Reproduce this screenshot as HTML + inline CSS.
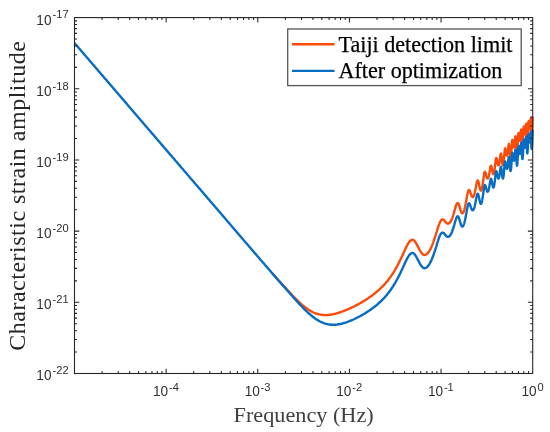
<!DOCTYPE html>
<html><head><meta charset="utf-8"><title>Characteristic strain amplitude vs frequency</title>
<style>
html,body{margin:0;padding:0;background:#fff;}
svg{display:block}
.t{font-family:"Liberation Sans",sans-serif;font-size:14.5px;fill:#303030}
.s{font-family:"Liberation Sans",sans-serif;font-size:11.6px;fill:#303030}
.lg{font-family:"Liberation Serif",serif;font-size:22.1px;fill:#000;stroke:#000;stroke-width:0.25px}
.xl{font-family:"Liberation Serif",serif;font-size:21.2px;fill:#404040}
.yl{font-family:"Liberation Serif",serif;font-size:24px;letter-spacing:0.5px;fill:#262626}
</style></head><body>
<svg width="550" height="432" viewBox="0 0 550 432">
<rect width="550" height="432" fill="#fff"/>
<defs><clipPath id="c"><rect x="74.5" y="17.6" width="459.5" height="355.9"/></clipPath></defs>
<g clip-path="url(#c)" fill="none" stroke-width="2.4" stroke-linejoin="round" stroke-linecap="butt">
<path stroke="#FC4A08" d="M272.5,273.4 L273.5,274.6 L274.5,275.7 L275.5,276.8 L276.5,278.0 L277.5,279.1 L278.5,280.2 L279.5,281.4 L280.5,282.5 L281.5,283.6 L282.5,284.7 L283.5,285.8 L284.5,286.9 L285.5,288.0 L286.5,289.1 L287.5,290.1 L288.5,291.2 L289.5,292.2 L290.5,293.3 L291.5,294.4 L292.5,295.5 L293.5,296.5 L294.5,297.6 L295.5,298.6 L296.5,299.6 L297.5,300.6 L298.5,301.5 L299.5,302.5 L300.5,303.4 L301.5,304.3 L302.5,305.2 L303.5,306.0 L304.5,306.8 L305.5,307.6 L306.5,308.3 L307.5,309.0 L308.5,309.7 L309.5,310.3 L310.5,310.9 L311.5,311.5 L312.5,312.0 L313.5,312.5 L314.5,312.9 L315.5,313.3 L316.5,313.6 L317.5,313.9 L318.5,314.2 L319.5,314.4 L320.5,314.6 L321.5,314.8 L322.5,314.9 L323.5,315.0 L324.5,315.1 L325.5,315.1 L326.5,315.1 L327.5,315.0 L328.5,314.9 L329.5,314.8 L330.5,314.7 L331.5,314.5 L332.5,314.4 L333.5,314.2 L334.5,313.9 L335.5,313.7 L336.5,313.4 L337.5,313.1 L338.5,312.8 L339.5,312.5 L340.5,312.2 L341.5,311.8 L342.5,311.4 L343.5,311.1 L344.5,310.7 L345.5,310.3 L346.5,309.9 L347.5,309.4 L348.5,309.0 L349.5,308.6 L350.5,308.1 L351.5,307.6 L352.5,307.2 L353.5,306.7 L354.5,306.2 L355.5,305.7 L356.5,305.1 L357.5,304.6 L358.5,304.1 L359.5,303.5 L360.5,303.0 L361.5,302.4 L362.5,301.8 L363.5,301.2 L364.5,300.6 L365.5,300.0 L366.5,299.3 L367.5,298.7 L368.5,298.0 L369.5,297.3 L370.5,296.6 L371.5,295.9 L372.5,295.2 L373.5,294.4 L374.5,293.6 L375.5,292.8 L376.5,292.0 L377.5,291.1 L378.5,290.3 L379.5,289.4 L380.5,288.4 L381.5,287.5 L382.5,286.5 L383.5,285.4 L384.5,284.4 L385.5,283.3 L386.5,282.1 L387.5,280.9 L388.5,279.6 L389.5,278.3 L390.0,277.6 L390.2,277.3 L390.4,277.1 L390.6,276.8 L390.8,276.5 L391.0,276.2 L391.2,275.9 L391.4,275.6 L391.6,275.3 L391.8,275.0 L392.0,274.7 L392.2,274.4 L392.4,274.1 L392.6,273.8 L392.8,273.5 L393.0,273.2 L393.2,272.9 L393.4,272.6 L393.6,272.3 L393.8,271.9 L394.0,271.6 L394.2,271.3 L394.4,270.9 L394.6,270.6 L394.8,270.3 L395.0,269.9 L395.2,269.6 L395.4,269.2 L395.6,268.9 L395.8,268.5 L396.0,268.2 L396.2,267.8 L396.4,267.5 L396.6,267.1 L396.8,266.7 L397.0,266.4 L397.2,266.0 L397.4,265.6 L397.6,265.3 L397.8,264.9 L398.0,264.5 L398.2,264.1 L398.4,263.7 L398.6,263.3 L398.8,262.9 L399.0,262.5 L399.2,262.1 L399.4,261.7 L399.6,261.3 L399.8,260.9 L400.0,260.5 L400.2,260.1 L400.4,259.7 L400.6,259.3 L400.8,258.8 L401.0,258.4 L401.2,258.0 L401.4,257.6 L401.6,257.1 L401.8,256.7 L402.0,256.3 L402.2,255.8 L402.4,255.4 L402.6,255.0 L402.8,254.5 L403.0,254.1 L403.2,253.6 L403.4,253.2 L403.6,252.8 L403.8,252.3 L404.0,251.9 L404.2,251.5 L404.4,251.0 L404.6,250.6 L404.8,250.2 L405.0,249.7 L405.2,249.3 L405.4,248.9 L405.6,248.4 L405.8,248.0 L406.0,247.6 L406.2,247.2 L406.4,246.8 L406.6,246.4 L406.8,246.0 L407.0,245.6 L407.2,245.3 L407.4,244.9 L407.6,244.5 L407.8,244.2 L408.0,243.8 L408.2,243.5 L408.4,243.2 L408.6,242.9 L408.8,242.6 L409.0,242.3 L409.2,242.0 L409.4,241.8 L409.6,241.5 L409.8,241.3 L410.0,241.1 L410.2,240.9 L410.4,240.7 L410.6,240.6 L410.8,240.4 L411.0,240.3 L411.2,240.2 L411.4,240.1 L411.6,240.0 L411.8,239.9 L412.0,239.9 L412.2,239.8 L412.4,239.8 L412.6,239.8 L412.8,239.8 L413.0,239.9 L413.2,239.9 L413.4,240.0 L413.6,240.1 L413.8,240.3 L414.0,240.5 L414.2,240.6 L414.4,240.9 L414.6,241.1 L414.8,241.3 L415.0,241.6 L415.2,241.9 L415.4,242.2 L415.6,242.5 L415.8,242.8 L416.0,243.1 L416.2,243.5 L416.4,243.8 L416.6,244.2 L416.8,244.5 L417.0,244.9 L417.2,245.3 L417.4,245.7 L417.6,246.1 L417.8,246.5 L418.0,246.8 L418.2,247.2 L418.4,247.6 L418.6,248.0 L418.8,248.4 L419.0,248.8 L419.2,249.1 L419.4,249.5 L419.6,249.9 L419.8,250.2 L420.0,250.6 L420.2,250.9 L420.4,251.3 L420.6,251.6 L420.8,251.9 L421.0,252.2 L421.2,252.5 L421.4,252.8 L421.6,253.0 L421.8,253.3 L422.0,253.5 L422.2,253.7 L422.4,253.9 L422.6,254.1 L422.8,254.3 L423.0,254.5 L423.2,254.6 L423.4,254.7 L423.6,254.8 L423.8,254.9 L424.0,255.0 L424.2,255.0 L424.4,255.0 L424.6,255.0 L424.8,255.0 L425.0,254.9 L425.2,254.9 L425.4,254.8 L425.6,254.8 L425.8,254.7 L426.0,254.6 L426.2,254.5 L426.4,254.3 L426.6,254.2 L426.8,254.0 L427.0,253.9 L427.2,253.7 L427.4,253.5 L427.6,253.3 L427.8,253.1 L428.0,252.8 L428.2,252.6 L428.4,252.3 L428.6,252.1 L428.8,251.8 L429.0,251.5 L429.2,251.2 L429.4,250.9 L429.6,250.5 L429.8,250.2 L430.0,249.8 L430.2,249.5 L430.4,249.1 L430.6,248.7 L430.8,248.3 L431.0,247.9 L431.2,247.4 L431.4,247.0 L431.6,246.5 L431.8,246.1 L432.0,245.6 L432.2,245.1 L432.4,244.6 L432.6,244.1 L432.8,243.6 L433.0,243.1 L433.2,242.5 L433.4,242.0 L433.6,241.4 L433.8,240.8 L434.0,240.3 L434.2,239.7 L434.4,239.1 L434.6,238.5 L434.8,237.8 L435.0,237.2 L435.2,236.6 L435.4,236.0 L435.6,235.3 L435.8,234.7 L436.0,234.0 L436.2,233.4 L436.4,232.7 L436.6,232.1 L436.8,231.4 L437.0,230.8 L437.2,230.1 L437.4,229.5 L437.6,228.8 L437.8,228.2 L438.0,227.5 L438.2,226.9 L438.4,226.3 L438.6,225.7 L438.8,225.2 L439.0,224.6 L439.2,224.1 L439.4,223.5 L439.6,223.0 L439.8,222.6 L440.0,222.1 L440.2,221.7 L440.4,221.3 L440.6,221.0 L440.8,220.7 L441.0,220.4 L441.2,220.2 L441.4,219.9 L441.6,219.8 L441.8,219.6 L442.0,219.5 L442.2,219.5 L442.4,219.4 L442.6,219.4 L442.8,219.4 L443.0,219.5 L443.2,219.6 L443.4,219.7 L443.6,219.9 L443.8,220.0 L444.0,220.2 L444.2,220.4 L444.4,220.7 L444.6,220.9 L444.8,221.1 L445.0,221.4 L445.2,221.6 L445.4,221.9 L445.6,222.1 L445.8,222.3 L446.0,222.5 L446.2,222.8 L446.4,222.9 L446.6,223.1 L446.8,223.3 L447.0,223.4 L447.2,223.5 L447.4,223.6 L447.6,223.6 L447.8,223.6 L448.0,223.6 L448.2,223.6 L448.4,223.5 L448.6,223.5 L448.8,223.4 L449.0,223.3 L449.2,223.1 L449.4,223.0 L449.6,222.8 L449.8,222.6 L450.0,222.4 L450.2,222.1 L450.4,221.8 L450.6,221.5 L450.8,221.2 L451.0,220.8 L451.2,220.5 L451.4,220.1 L451.6,219.6 L451.8,219.2 L452.0,218.7 L452.2,218.2 L452.4,217.6 L452.6,217.1 L452.8,216.5 L453.0,215.9 L453.2,215.2 L453.4,214.6 L453.6,213.9 L453.8,213.3 L454.0,212.6 L454.2,211.9 L454.4,211.1 L454.6,210.4 L454.8,209.7 L455.0,209.0 L455.2,208.3 L455.4,207.6 L455.6,207.0 L455.8,206.3 L456.0,205.8 L456.2,205.2 L456.4,204.7 L456.6,204.3 L456.8,203.9 L457.0,203.6 L457.2,203.4 L457.4,203.2 L457.6,203.1 L457.8,203.1 L458.0,203.1 L458.2,203.3 L458.4,203.6 L458.6,204.0 L458.8,204.4 L459.0,205.0 L459.2,205.6 L459.4,206.2 L459.6,206.9 L459.8,207.6 L460.0,208.3 L460.2,209.0 L460.4,209.6 L460.6,210.3 L460.8,210.9 L461.0,211.5 L461.2,212.0 L461.4,212.4 L461.6,212.8 L461.8,213.1 L462.0,213.3 L462.2,213.4 L462.4,213.4 L462.6,213.3 L462.8,213.2 L463.0,212.9 L463.2,212.6 L463.4,212.3 L463.6,211.8 L463.8,211.3 L464.0,210.7 L464.2,210.1 L464.4,209.4 L464.6,208.6 L464.8,207.8 L465.0,206.9 L465.2,206.0 L465.4,205.0 L465.6,204.0 L465.8,202.9 L466.0,201.9 L466.2,200.8 L466.4,199.6 L466.6,198.5 L466.8,197.4 L467.0,196.3 L467.2,195.3 L467.4,194.3 L467.6,193.3 L467.8,192.5 L468.0,191.8 L468.2,191.1 L468.4,190.6 L468.6,190.3 L468.8,190.1 L469.0,190.0 L469.2,190.1 L469.4,190.3 L469.6,190.6 L469.8,191.0 L470.0,191.5 L470.2,192.0 L470.4,192.6 L470.6,193.2 L470.8,193.8 L471.0,194.4 L471.2,194.9 L471.4,195.4 L471.6,195.9 L471.8,196.3 L472.0,196.6 L472.2,196.9 L472.4,197.0 L472.6,197.1 L472.8,197.1 L473.0,197.0 L473.2,196.8 L473.4,196.5 L473.6,196.2 L473.8,195.8 L474.0,195.3 L474.2,194.7 L474.4,194.0 L474.6,193.3 L474.8,192.5 L475.0,191.6 L475.2,190.7 L475.4,189.7 L475.6,188.7 L475.8,187.6 L476.0,186.5 L476.2,185.5 L476.4,184.4 L476.6,183.4 L476.8,182.6 L477.0,181.8 L477.2,181.2 L477.4,180.7 L477.6,180.5 L477.8,180.4 L478.0,180.6 L478.2,181.0 L478.4,181.6 L478.6,182.3 L478.8,183.2 L479.0,184.2 L479.2,185.2 L479.4,186.2 L479.6,187.1 L479.8,188.0 L480.0,188.8 L480.2,189.5 L480.4,190.0 L480.6,190.4 L480.8,190.6 L481.0,190.6 L481.2,190.4 L481.4,190.0 L481.6,189.5 L481.8,188.8 L482.0,188.0 L482.2,187.1 L482.4,186.0 L482.6,184.7 L482.8,183.4 L483.0,182.0 L483.2,180.6 L483.4,179.1 L483.6,177.6 L483.8,176.2 L484.0,174.9 L484.2,173.8 L484.4,172.8 L484.6,172.2 L484.8,171.9 L485.0,171.8 L485.2,172.0 L485.4,172.4 L485.6,173.0 L485.8,173.7 L486.0,174.5 L486.2,175.3 L486.4,176.0 L486.6,176.7 L486.8,177.3 L487.0,177.8 L487.2,178.2 L487.4,178.4 L487.6,178.5 L487.8,178.5 L488.0,178.3 L488.2,177.9 L488.4,177.4 L488.6,176.8 L488.8,176.0 L489.0,175.1 L489.2,174.1 L489.4,173.0 L489.6,171.7 L489.8,170.5 L490.0,169.2 L490.2,168.0 L490.4,167.0 L490.6,166.2 L490.8,165.7 L491.0,165.6 L491.2,165.8 L491.4,166.4 L491.6,167.2 L491.8,168.2 L492.0,169.3 L492.2,170.4 L492.4,171.5 L492.6,172.4 L492.8,173.2 L493.0,173.8 L493.2,174.2 L493.4,174.3 L493.6,174.2 L493.8,173.7 L494.0,173.1 L494.2,172.1 L494.4,170.9 L494.6,169.5 L494.8,167.9 L495.0,166.1 L495.2,164.3 L495.4,162.6 L495.6,160.9 L495.8,159.5 L496.0,158.5 L496.2,158.0 L496.4,158.0 L496.6,158.4 L496.8,159.1 L497.0,160.1 L497.2,161.2 L497.4,162.3 L497.6,163.3 L497.8,164.1 L498.0,164.8 L498.2,165.2 L498.4,165.4 L498.6,165.3 L498.8,165.0 L499.0,164.4 L499.2,163.6 L499.4,162.5 L499.6,161.3 L499.8,159.8 L500.0,158.3 L500.2,156.8 L500.4,155.4 L500.6,154.3 L500.8,153.7 L501.0,153.6 L501.2,154.2 L501.4,155.4 L501.6,157.0 L501.8,158.9 L502.0,160.7 L502.2,162.4 L502.4,163.8 L502.6,164.9 L502.8,165.4 L503.0,165.4 L503.2,164.9 L503.4,163.9 L503.6,162.4 L503.8,160.6 L504.0,158.4 L504.2,156.1 L504.4,153.7 L504.6,151.5 L504.8,149.7 L505.0,148.5 L505.2,148.3 L505.4,148.7 L505.6,149.6 L505.8,150.8 L506.0,152.2 L506.2,153.4 L506.4,154.5 L506.6,155.2 L506.8,155.6 L507.0,155.6 L507.2,155.2 L507.4,154.5 L507.6,153.3 L507.8,151.8 L508.0,150.1 L508.2,148.2 L508.4,146.3 L508.6,144.8 L508.8,143.9 L509.0,143.9 L509.2,145.1 L509.4,147.1 L509.6,149.6 L509.8,152.2 L510.0,154.5 L510.2,156.4 L510.4,157.6 L510.6,157.9 L510.8,157.4 L511.0,156.0 L511.2,153.9 L511.4,151.3 L511.6,148.3 L511.8,145.2 L512.0,142.5 L512.2,140.5 L512.4,139.8 L512.6,140.3 L512.8,141.5 L513.0,143.1 L513.2,144.7 L513.4,146.1 L513.6,147.0 L513.8,147.5 L514.0,147.5 L514.2,146.9 L514.4,145.7 L514.6,144.1 L514.8,142.1 L515.0,139.9 L515.2,137.8 L515.4,136.5 L515.6,136.2 L515.8,137.5 L516.0,140.2 L516.2,143.6 L516.4,147.0 L516.6,149.9 L516.8,151.8 L517.0,152.4 L517.2,151.6 L517.4,149.5 L517.6,146.4 L517.8,142.7 L518.0,138.7 L518.2,135.3 L518.4,133.2 L518.6,132.9 L518.8,133.9 L519.0,135.7 L519.2,137.6 L519.4,139.3 L519.6,140.4 L519.8,140.8 L520.0,140.4 L520.2,139.4 L520.4,137.6 L520.6,135.3 L520.8,132.7 L521.0,130.6 L521.2,129.5 L521.4,130.1 L521.6,132.8 L521.8,136.8 L522.0,140.8 L522.2,144.0 L522.4,145.8 L522.6,145.7 L522.8,143.8 L523.0,140.5 L523.2,136.2 L523.4,131.7 L523.6,128.1 L523.8,126.4 L524.0,127.0 L524.2,128.8 L524.4,131.1 L524.6,133.0 L524.8,134.2 L525.0,134.5 L525.2,133.9 L525.4,132.3 L525.6,129.9 L525.8,127.1 L526.0,124.7 L526.2,123.6 L526.4,125.1 L526.6,129.0 L526.8,133.6 L527.0,137.6 L527.2,140.0 L527.4,140.2 L527.6,138.1 L527.8,134.3 L528.0,129.5 L528.2,124.7 L528.4,121.6 L528.6,121.3 L528.8,123.1 L529.0,125.6 L529.2,127.9 L529.4,129.2 L529.6,129.4 L529.8,128.4 L530.0,126.2 L530.2,123.3 L530.4,120.3 L530.6,118.7 L530.8,119.7 L531.0,124.0 L531.2,129.4 L531.4,133.8 L531.6,135.7 L531.8,135.1 L532.0,132.5 L532.2,128.4 L532.4,123.2 L532.6,118.4 L532.7,116.6"/>
<path stroke="#066CC4" d="M74.5,43.0 L75.5,44.2 L76.5,45.3 L77.5,46.5 L78.5,47.7 L79.5,48.8 L80.5,50.0 L81.5,51.2 L82.5,52.3 L83.5,53.5 L84.5,54.7 L85.5,55.8 L86.5,57.0 L87.5,58.1 L88.5,59.3 L89.5,60.5 L90.5,61.6 L91.5,62.8 L92.5,64.0 L93.5,65.1 L94.5,66.3 L95.5,67.5 L96.5,68.6 L97.5,69.8 L98.5,71.0 L99.5,72.1 L100.5,73.3 L101.5,74.5 L102.5,75.6 L103.5,76.8 L104.5,78.0 L105.5,79.1 L106.5,80.3 L107.5,81.5 L108.5,82.6 L109.5,83.8 L110.5,84.9 L111.5,86.1 L112.5,87.3 L113.5,88.4 L114.5,89.6 L115.5,90.8 L116.5,91.9 L117.5,93.1 L118.5,94.3 L119.5,95.4 L120.5,96.6 L121.5,97.8 L122.5,98.9 L123.5,100.1 L124.5,101.3 L125.5,102.4 L126.5,103.6 L127.5,104.8 L128.5,105.9 L129.5,107.1 L130.5,108.2 L131.5,109.4 L132.5,110.6 L133.5,111.7 L134.5,112.9 L135.5,114.1 L136.5,115.2 L137.5,116.4 L138.5,117.6 L139.5,118.7 L140.5,119.9 L141.5,121.1 L142.5,122.2 L143.5,123.4 L144.5,124.6 L145.5,125.7 L146.5,126.9 L147.5,128.1 L148.5,129.2 L149.5,130.4 L150.5,131.6 L151.5,132.7 L152.5,133.9 L153.5,135.0 L154.5,136.2 L155.5,137.4 L156.5,138.5 L157.5,139.7 L158.5,140.9 L159.5,142.0 L160.5,143.2 L161.5,144.4 L162.5,145.5 L163.5,146.7 L164.5,147.9 L165.5,149.0 L166.5,150.2 L167.5,151.4 L168.5,152.5 L169.5,153.7 L170.5,154.9 L171.5,156.0 L172.5,157.2 L173.5,158.3 L174.5,159.5 L175.5,160.7 L176.5,161.8 L177.5,163.0 L178.5,164.2 L179.5,165.3 L180.5,166.5 L181.5,167.7 L182.5,168.8 L183.5,170.0 L184.5,171.2 L185.5,172.3 L186.5,173.5 L187.5,174.7 L188.5,175.8 L189.5,177.0 L190.5,178.2 L191.5,179.3 L192.5,180.5 L193.5,181.6 L194.5,182.8 L195.5,184.0 L196.5,185.1 L197.5,186.3 L198.5,187.5 L199.5,188.6 L200.5,189.8 L201.5,191.0 L202.5,192.1 L203.5,193.3 L204.5,194.5 L205.5,195.6 L206.5,196.8 L207.5,198.0 L208.5,199.1 L209.5,200.3 L210.5,201.5 L211.5,202.6 L212.5,203.8 L213.5,204.9 L214.5,206.1 L215.5,207.3 L216.5,208.4 L217.5,209.6 L218.5,210.8 L219.5,211.9 L220.5,213.1 L221.5,214.3 L222.5,215.4 L223.5,216.6 L224.5,217.8 L225.5,218.9 L226.5,220.1 L227.5,221.3 L228.5,222.4 L229.5,223.6 L230.5,224.8 L231.5,225.9 L232.5,227.1 L233.5,228.2 L234.5,229.4 L235.5,230.6 L236.5,231.7 L237.5,232.9 L238.5,234.1 L239.5,235.2 L240.5,236.4 L241.5,237.6 L242.5,238.7 L243.5,239.9 L244.5,241.1 L245.5,242.2 L246.5,243.4 L247.5,244.5 L248.5,245.7 L249.5,246.9 L250.5,248.0 L251.5,249.2 L252.5,250.4 L253.5,251.5 L254.5,252.7 L255.5,253.9 L256.5,255.0 L257.5,256.2 L258.5,257.3 L259.5,258.5 L260.5,259.7 L261.5,260.8 L262.5,262.0 L263.5,263.1 L264.5,264.3 L265.5,265.5 L266.5,266.6 L267.5,267.8 L268.5,268.9 L269.5,270.1 L270.5,271.2 L271.5,272.4 L272.5,273.6 L273.5,274.7 L274.5,275.9 L275.5,277.0 L276.5,278.2 L277.5,279.3 L278.5,280.5 L279.5,281.6 L280.5,282.7 L281.5,283.9 L282.5,285.0 L283.5,286.2 L284.5,287.3 L285.5,288.4 L286.5,289.5 L287.5,290.7 L288.5,291.8 L289.5,292.9 L290.5,294.0 L291.5,295.2 L292.5,296.3 L293.5,297.5 L294.5,298.6 L295.5,299.7 L296.5,300.8 L297.5,301.9 L298.5,303.0 L299.5,304.1 L300.5,305.2 L301.5,306.2 L302.5,307.3 L303.5,308.3 L304.5,309.3 L305.5,310.3 L306.5,311.2 L307.5,312.2 L308.5,313.1 L309.5,314.0 L310.5,314.8 L311.5,315.7 L312.5,316.5 L313.5,317.2 L314.5,318.0 L315.5,318.7 L316.5,319.4 L317.5,320.0 L318.5,320.6 L319.5,321.2 L320.5,321.7 L321.5,322.2 L322.5,322.6 L323.5,323.0 L324.5,323.4 L325.5,323.7 L326.5,323.9 L327.5,324.2 L328.5,324.4 L329.5,324.5 L330.5,324.7 L331.5,324.7 L332.5,324.8 L333.5,324.8 L334.5,324.8 L335.5,324.7 L336.5,324.6 L337.5,324.5 L338.5,324.3 L339.5,324.2 L340.5,324.0 L341.5,323.7 L342.5,323.5 L343.5,323.2 L344.5,322.9 L345.5,322.6 L346.5,322.3 L347.5,321.9 L348.5,321.5 L349.5,321.1 L350.5,320.7 L351.5,320.3 L352.5,319.9 L353.5,319.5 L354.5,319.0 L355.5,318.5 L356.5,318.0 L357.5,317.5 L358.5,317.0 L359.5,316.5 L360.5,316.0 L361.5,315.4 L362.5,314.8 L363.5,314.3 L364.5,313.7 L365.5,313.0 L366.5,312.4 L367.5,311.8 L368.5,311.1 L369.5,310.4 L370.5,309.7 L371.5,309.0 L372.5,308.3 L373.5,307.5 L374.5,306.8 L375.5,306.0 L376.5,305.2 L377.5,304.3 L378.5,303.4 L379.5,302.5 L380.5,301.6 L381.5,300.6 L382.5,299.6 L383.5,298.6 L384.5,297.6 L385.5,296.4 L386.5,295.3 L387.5,294.1 L388.5,292.8 L389.5,291.5 L390.0,290.8 L390.2,290.5 L390.4,290.3 L390.6,290.0 L390.8,289.7 L391.0,289.4 L391.2,289.1 L391.4,288.8 L391.6,288.5 L391.8,288.2 L392.0,287.9 L392.2,287.6 L392.4,287.3 L392.6,287.0 L392.8,286.7 L393.0,286.4 L393.2,286.1 L393.4,285.8 L393.6,285.5 L393.8,285.1 L394.0,284.8 L394.2,284.5 L394.4,284.1 L394.6,283.8 L394.8,283.5 L395.0,283.1 L395.2,282.8 L395.4,282.4 L395.6,282.1 L395.8,281.7 L396.0,281.4 L396.2,281.0 L396.4,280.7 L396.6,280.3 L396.8,279.9 L397.0,279.6 L397.2,279.2 L397.4,278.8 L397.6,278.5 L397.8,278.1 L398.0,277.7 L398.2,277.3 L398.4,276.9 L398.6,276.5 L398.8,276.1 L399.0,275.7 L399.2,275.3 L399.4,274.9 L399.6,274.5 L399.8,274.1 L400.0,273.7 L400.2,273.3 L400.4,272.9 L400.6,272.5 L400.8,272.0 L401.0,271.6 L401.2,271.2 L401.4,270.8 L401.6,270.3 L401.8,269.9 L402.0,269.5 L402.2,269.0 L402.4,268.6 L402.6,268.2 L402.8,267.7 L403.0,267.3 L403.2,266.9 L403.4,266.4 L403.6,266.0 L403.8,265.5 L404.0,265.1 L404.2,264.7 L404.4,264.2 L404.6,263.8 L404.8,263.4 L405.0,262.9 L405.2,262.5 L405.4,262.1 L405.6,261.6 L405.8,261.2 L406.0,260.8 L406.2,260.4 L406.4,260.0 L406.6,259.6 L406.8,259.2 L407.0,258.8 L407.2,258.5 L407.4,258.1 L407.6,257.7 L407.8,257.4 L408.0,257.0 L408.2,256.7 L408.4,256.4 L408.6,256.1 L408.8,255.8 L409.0,255.5 L409.2,255.2 L409.4,255.0 L409.6,254.7 L409.8,254.5 L410.0,254.3 L410.2,254.1 L410.4,253.9 L410.6,253.8 L410.8,253.6 L411.0,253.5 L411.2,253.4 L411.4,253.3 L411.6,253.2 L411.8,253.1 L412.0,253.1 L412.2,253.0 L412.4,253.0 L412.6,253.0 L412.8,253.0 L413.0,253.1 L413.2,253.1 L413.4,253.2 L413.6,253.3 L413.8,253.5 L414.0,253.7 L414.2,253.8 L414.4,254.1 L414.6,254.3 L414.8,254.5 L415.0,254.8 L415.2,255.1 L415.4,255.4 L415.6,255.7 L415.8,256.0 L416.0,256.3 L416.2,256.7 L416.4,257.0 L416.6,257.4 L416.8,257.8 L417.0,258.1 L417.2,258.5 L417.4,258.9 L417.6,259.3 L417.8,259.7 L418.0,260.0 L418.2,260.4 L418.4,260.8 L418.6,261.2 L418.8,261.6 L419.0,262.0 L419.2,262.3 L419.4,262.7 L419.6,263.1 L419.8,263.4 L420.0,263.8 L420.2,264.1 L420.4,264.5 L420.6,264.8 L420.8,265.1 L421.0,265.4 L421.2,265.7 L421.4,266.0 L421.6,266.2 L421.8,266.5 L422.0,266.7 L422.2,266.9 L422.4,267.2 L422.6,267.3 L422.8,267.5 L423.0,267.7 L423.2,267.8 L423.4,267.9 L423.6,268.0 L423.8,268.1 L424.0,268.2 L424.2,268.2 L424.4,268.2 L424.6,268.2 L424.8,268.2 L425.0,268.1 L425.2,268.1 L425.4,268.0 L425.6,268.0 L425.8,267.9 L426.0,267.8 L426.2,267.7 L426.4,267.5 L426.6,267.4 L426.8,267.2 L427.0,267.1 L427.2,266.9 L427.4,266.7 L427.6,266.5 L427.8,266.3 L428.0,266.0 L428.2,265.8 L428.4,265.5 L428.6,265.3 L428.8,265.0 L429.0,264.7 L429.2,264.4 L429.4,264.1 L429.6,263.7 L429.8,263.4 L430.0,263.0 L430.2,262.7 L430.4,262.3 L430.6,261.9 L430.8,261.5 L431.0,261.1 L431.2,260.6 L431.4,260.2 L431.6,259.7 L431.8,259.3 L432.0,258.8 L432.2,258.3 L432.4,257.8 L432.6,257.3 L432.8,256.8 L433.0,256.3 L433.2,255.7 L433.4,255.2 L433.6,254.6 L433.8,254.0 L434.0,253.5 L434.2,252.9 L434.4,252.3 L434.6,251.7 L434.8,251.1 L435.0,250.4 L435.2,249.8 L435.4,249.2 L435.6,248.5 L435.8,247.9 L436.0,247.2 L436.2,246.6 L436.4,245.9 L436.6,245.3 L436.8,244.6 L437.0,244.0 L437.2,243.3 L437.4,242.7 L437.6,242.0 L437.8,241.4 L438.0,240.8 L438.2,240.1 L438.4,239.5 L438.6,238.9 L438.8,238.4 L439.0,237.8 L439.2,237.3 L439.4,236.7 L439.6,236.3 L439.8,235.8 L440.0,235.3 L440.2,234.9 L440.4,234.6 L440.6,234.2 L440.8,233.9 L441.0,233.6 L441.2,233.4 L441.4,233.2 L441.6,233.0 L441.8,232.8 L442.0,232.7 L442.2,232.7 L442.4,232.6 L442.6,232.6 L442.8,232.6 L443.0,232.7 L443.2,232.8 L443.4,232.9 L443.6,233.1 L443.8,233.2 L444.0,233.4 L444.2,233.6 L444.4,233.9 L444.6,234.1 L444.8,234.3 L445.0,234.6 L445.2,234.8 L445.4,235.1 L445.6,235.3 L445.8,235.5 L446.0,235.8 L446.2,236.0 L446.4,236.1 L446.6,236.3 L446.8,236.5 L447.0,236.6 L447.2,236.7 L447.4,236.8 L447.6,236.8 L447.8,236.8 L448.0,236.8 L448.2,236.8 L448.4,236.8 L448.6,236.7 L448.8,236.6 L449.0,236.5 L449.2,236.4 L449.4,236.2 L449.6,236.0 L449.8,235.8 L450.0,235.6 L450.2,235.3 L450.4,235.0 L450.6,234.7 L450.8,234.4 L451.0,234.1 L451.2,233.7 L451.4,233.3 L451.6,232.8 L451.8,232.4 L452.0,231.9 L452.2,231.4 L452.4,230.8 L452.6,230.3 L452.8,229.7 L453.0,229.1 L453.2,228.5 L453.4,227.8 L453.6,227.1 L453.8,226.5 L454.0,225.8 L454.2,225.1 L454.4,224.3 L454.6,223.6 L454.8,222.9 L455.0,222.2 L455.2,221.5 L455.4,220.8 L455.6,220.2 L455.8,219.5 L456.0,219.0 L456.2,218.4 L456.4,217.9 L456.6,217.5 L456.8,217.1 L457.0,216.8 L457.2,216.6 L457.4,216.4 L457.6,216.3 L457.8,216.3 L458.0,216.3 L458.2,216.5 L458.4,216.8 L458.6,217.2 L458.8,217.6 L459.0,218.2 L459.2,218.8 L459.4,219.4 L459.6,220.1 L459.8,220.8 L460.0,221.5 L460.2,222.2 L460.4,222.8 L460.6,223.5 L460.8,224.1 L461.0,224.7 L461.2,225.2 L461.4,225.6 L461.6,226.0 L461.8,226.3 L462.0,226.5 L462.2,226.6 L462.4,226.6 L462.6,226.5 L462.8,226.4 L463.0,226.1 L463.2,225.8 L463.4,225.5 L463.6,225.0 L463.8,224.5 L464.0,223.9 L464.2,223.3 L464.4,222.6 L464.6,221.8 L464.8,221.0 L465.0,220.1 L465.2,219.2 L465.4,218.2 L465.6,217.2 L465.8,216.1 L466.0,215.1 L466.2,214.0 L466.4,212.8 L466.6,211.7 L466.8,210.6 L467.0,209.5 L467.2,208.5 L467.4,207.5 L467.6,206.6 L467.8,205.7 L468.0,205.0 L468.2,204.3 L468.4,203.8 L468.6,203.5 L468.8,203.3 L469.0,203.2 L469.2,203.3 L469.4,203.5 L469.6,203.8 L469.8,204.2 L470.0,204.7 L470.2,205.2 L470.4,205.8 L470.6,206.4 L470.8,207.0 L471.0,207.6 L471.2,208.1 L471.4,208.6 L471.6,209.1 L471.8,209.5 L472.0,209.8 L472.2,210.1 L472.4,210.2 L472.6,210.3 L472.8,210.3 L473.0,210.2 L473.2,210.0 L473.4,209.7 L473.6,209.4 L473.8,209.0 L474.0,208.5 L474.2,207.9 L474.4,207.3 L474.6,206.5 L474.8,205.7 L475.0,204.8 L475.2,203.9 L475.4,202.9 L475.6,201.9 L475.8,200.8 L476.0,199.7 L476.2,198.7 L476.4,197.6 L476.6,196.6 L476.8,195.8 L477.0,195.0 L477.2,194.4 L477.4,193.9 L477.6,193.7 L477.8,193.6 L478.0,193.8 L478.2,194.2 L478.4,194.8 L478.6,195.5 L478.8,196.4 L479.0,197.4 L479.2,198.4 L479.4,199.4 L479.6,200.3 L479.8,201.2 L480.0,202.0 L480.2,202.7 L480.4,203.2 L480.6,203.6 L480.8,203.8 L481.0,203.8 L481.2,203.6 L481.4,203.2 L481.6,202.7 L481.8,202.1 L482.0,201.2 L482.2,200.3 L482.4,199.2 L482.6,197.9 L482.8,196.6 L483.0,195.2 L483.2,193.8 L483.4,192.3 L483.6,190.8 L483.8,189.4 L484.0,188.1 L484.2,187.0 L484.4,186.1 L484.6,185.4 L484.8,185.1 L485.0,185.0 L485.2,185.2 L485.4,185.7 L485.6,186.2 L485.8,186.9 L486.0,187.7 L486.2,188.5 L486.4,189.2 L486.6,189.9 L486.8,190.5 L487.0,191.0 L487.2,191.4 L487.4,191.6 L487.6,191.7 L487.8,191.7 L488.0,191.5 L488.2,191.1 L488.4,190.7 L488.6,190.0 L488.8,189.3 L489.0,188.3 L489.2,187.3 L489.4,186.2 L489.6,184.9 L489.8,183.7 L490.0,182.4 L490.2,181.2 L490.4,180.2 L490.6,179.4 L490.8,179.0 L491.0,178.8 L491.2,179.0 L491.4,179.6 L491.6,180.4 L491.8,181.4 L492.0,182.5 L492.2,183.6 L492.4,184.7 L492.6,185.6 L492.8,186.4 L493.0,187.0 L493.2,187.4 L493.4,187.5 L493.6,187.4 L493.8,187.0 L494.0,186.3 L494.2,185.3 L494.4,184.1 L494.6,182.7 L494.8,181.1 L495.0,179.3 L495.2,177.5 L495.4,175.8 L495.6,174.1 L495.8,172.7 L496.0,171.7 L496.2,171.2 L496.4,171.2 L496.6,171.6 L496.8,172.3 L497.0,173.3 L497.2,174.4 L497.4,175.5 L497.6,176.5 L497.8,177.3 L498.0,178.0 L498.2,178.4 L498.4,178.6 L498.6,178.5 L498.8,178.2 L499.0,177.6 L499.2,176.8 L499.4,175.7 L499.6,174.5 L499.8,173.1 L500.0,171.5 L500.2,170.0 L500.4,168.6 L500.6,167.5 L500.8,166.9 L501.0,166.8 L501.2,167.4 L501.4,168.6 L501.6,170.2 L501.8,172.1 L502.0,173.9 L502.2,175.6 L502.4,177.0 L502.6,178.1 L502.8,178.6 L503.0,178.6 L503.2,178.1 L503.4,177.1 L503.6,175.6 L503.8,173.8 L504.0,171.6 L504.2,169.3 L504.4,166.9 L504.6,164.7 L504.8,162.9 L505.0,161.8 L505.2,161.5 L505.4,161.9 L505.6,162.8 L505.8,164.1 L506.0,165.4 L506.2,166.6 L506.4,167.7 L506.6,168.4 L506.8,168.8 L507.0,168.8 L507.2,168.5 L507.4,167.7 L507.6,166.5 L507.8,165.1 L508.0,163.3 L508.2,161.4 L508.4,159.5 L508.6,158.0 L508.8,157.1 L509.0,157.1 L509.2,158.3 L509.4,160.3 L509.6,162.8 L509.8,165.4 L510.0,167.7 L510.2,169.6 L510.4,170.8 L510.6,171.1 L510.8,170.6 L511.0,169.2 L511.2,167.1 L511.4,164.5 L511.6,161.5 L511.8,158.4 L512.0,155.7 L512.2,153.7 L512.4,153.0 L512.6,153.5 L512.8,154.7 L513.0,156.3 L513.2,157.9 L513.4,159.3 L513.6,160.2 L513.8,160.7 L514.0,160.7 L514.2,160.1 L514.4,158.9 L514.6,157.3 L514.8,155.3 L515.0,153.1 L515.2,151.0 L515.4,149.7 L515.6,149.4 L515.8,150.7 L516.0,153.4 L516.2,156.8 L516.4,160.2 L516.6,163.1 L516.8,165.0 L517.0,165.7 L517.2,164.8 L517.4,162.7 L517.6,159.6 L517.8,155.9 L518.0,151.9 L518.2,148.5 L518.4,146.4 L518.6,146.1 L518.8,147.1 L519.0,148.9 L519.2,150.8 L519.4,152.5 L519.6,153.6 L519.8,154.0 L520.0,153.6 L520.2,152.6 L520.4,150.8 L520.6,148.5 L520.8,145.9 L521.0,143.8 L521.2,142.7 L521.4,143.3 L521.6,146.0 L521.8,150.0 L522.0,154.0 L522.2,157.2 L522.4,159.0 L522.6,158.9 L522.8,157.0 L523.0,153.7 L523.2,149.4 L523.4,144.9 L523.6,141.3 L523.8,139.6 L524.0,140.2 L524.2,142.0 L524.4,144.3 L524.6,146.2 L524.8,147.4 L525.0,147.7 L525.2,147.1 L525.4,145.5 L525.6,143.1 L525.8,140.3 L526.0,137.9 L526.2,136.8 L526.4,138.3 L526.6,142.2 L526.8,146.8 L527.0,150.8 L527.2,153.2 L527.4,153.4 L527.6,151.3 L527.8,147.5 L528.0,142.7 L528.2,137.9 L528.4,134.8 L528.6,134.5 L528.8,136.3 L529.0,138.8 L529.2,141.1 L529.4,142.4 L529.6,142.6 L529.8,141.6 L530.0,139.5 L530.2,136.5 L530.4,133.5 L530.6,131.9 L530.8,132.9 L531.0,137.2 L531.2,142.6 L531.4,147.0 L531.6,149.0 L531.8,148.3 L532.0,145.7 L532.2,141.6 L532.4,136.4 L532.6,131.6 L532.7,129.8"/>
</g>
<path d="M102.09,373.5 v-2.5 M102.09,17.6 v2.5 M118.22,373.5 v-2.5 M118.22,17.6 v2.5 M129.67,373.5 v-2.5 M129.67,17.6 v2.5 M138.55,373.5 v-2.5 M138.55,17.6 v2.5 M145.81,373.5 v-2.5 M145.81,17.6 v2.5 M151.94,373.5 v-2.5 M151.94,17.6 v2.5 M157.26,373.5 v-2.5 M157.26,17.6 v2.5 M161.95,373.5 v-2.5 M161.95,17.6 v2.5 M166.14,373.5 v-4.8 M166.14,17.6 v4.8 M193.73,373.5 v-2.5 M193.73,17.6 v2.5 M209.86,373.5 v-2.5 M209.86,17.6 v2.5 M221.31,373.5 v-2.5 M221.31,17.6 v2.5 M230.19,373.5 v-2.5 M230.19,17.6 v2.5 M237.45,373.5 v-2.5 M237.45,17.6 v2.5 M243.58,373.5 v-2.5 M243.58,17.6 v2.5 M248.90,373.5 v-2.5 M248.90,17.6 v2.5 M253.59,373.5 v-2.5 M253.59,17.6 v2.5 M257.78,373.5 v-4.8 M257.78,17.6 v4.8 M285.37,373.5 v-2.5 M285.37,17.6 v2.5 M301.50,373.5 v-2.5 M301.50,17.6 v2.5 M312.95,373.5 v-2.5 M312.95,17.6 v2.5 M321.83,373.5 v-2.5 M321.83,17.6 v2.5 M329.09,373.5 v-2.5 M329.09,17.6 v2.5 M335.22,373.5 v-2.5 M335.22,17.6 v2.5 M340.54,373.5 v-2.5 M340.54,17.6 v2.5 M345.23,373.5 v-2.5 M345.23,17.6 v2.5 M349.42,373.5 v-4.8 M349.42,17.6 v4.8 M377.01,373.5 v-2.5 M377.01,17.6 v2.5 M393.14,373.5 v-2.5 M393.14,17.6 v2.5 M404.59,373.5 v-2.5 M404.59,17.6 v2.5 M413.47,373.5 v-2.5 M413.47,17.6 v2.5 M420.73,373.5 v-2.5 M420.73,17.6 v2.5 M426.86,373.5 v-2.5 M426.86,17.6 v2.5 M432.18,373.5 v-2.5 M432.18,17.6 v2.5 M436.87,373.5 v-2.5 M436.87,17.6 v2.5 M441.06,373.5 v-4.8 M441.06,17.6 v4.8 M468.65,373.5 v-2.5 M468.65,17.6 v2.5 M484.78,373.5 v-2.5 M484.78,17.6 v2.5 M496.23,373.5 v-2.5 M496.23,17.6 v2.5 M505.11,373.5 v-2.5 M505.11,17.6 v2.5 M512.37,373.5 v-2.5 M512.37,17.6 v2.5 M518.50,373.5 v-2.5 M518.50,17.6 v2.5 M523.82,373.5 v-2.5 M523.82,17.6 v2.5 M528.51,373.5 v-2.5 M528.51,17.6 v2.5 M74.5,352.07 h2.5 M532.7,352.07 h-2.5 M74.5,339.54 h2.5 M532.7,339.54 h-2.5 M74.5,330.65 h2.5 M532.7,330.65 h-2.5 M74.5,323.75 h2.5 M532.7,323.75 h-2.5 M74.5,318.11 h2.5 M532.7,318.11 h-2.5 M74.5,313.35 h2.5 M532.7,313.35 h-2.5 M74.5,309.22 h2.5 M532.7,309.22 h-2.5 M74.5,305.58 h2.5 M532.7,305.58 h-2.5 M74.5,302.32 h4.8 M532.7,302.32 h-4.8 M74.5,280.89 h2.5 M532.7,280.89 h-2.5 M74.5,268.36 h2.5 M532.7,268.36 h-2.5 M74.5,259.47 h2.5 M532.7,259.47 h-2.5 M74.5,252.57 h2.5 M532.7,252.57 h-2.5 M74.5,246.93 h2.5 M532.7,246.93 h-2.5 M74.5,242.17 h2.5 M532.7,242.17 h-2.5 M74.5,238.04 h2.5 M532.7,238.04 h-2.5 M74.5,234.40 h2.5 M532.7,234.40 h-2.5 M74.5,231.14 h4.8 M532.7,231.14 h-4.8 M74.5,209.71 h2.5 M532.7,209.71 h-2.5 M74.5,197.18 h2.5 M532.7,197.18 h-2.5 M74.5,188.29 h2.5 M532.7,188.29 h-2.5 M74.5,181.39 h2.5 M532.7,181.39 h-2.5 M74.5,175.75 h2.5 M532.7,175.75 h-2.5 M74.5,170.99 h2.5 M532.7,170.99 h-2.5 M74.5,166.86 h2.5 M532.7,166.86 h-2.5 M74.5,163.22 h2.5 M532.7,163.22 h-2.5 M74.5,159.96 h4.8 M532.7,159.96 h-4.8 M74.5,138.53 h2.5 M532.7,138.53 h-2.5 M74.5,126.00 h2.5 M532.7,126.00 h-2.5 M74.5,117.11 h2.5 M532.7,117.11 h-2.5 M74.5,110.21 h2.5 M532.7,110.21 h-2.5 M74.5,104.57 h2.5 M532.7,104.57 h-2.5 M74.5,99.81 h2.5 M532.7,99.81 h-2.5 M74.5,95.68 h2.5 M532.7,95.68 h-2.5 M74.5,92.04 h2.5 M532.7,92.04 h-2.5 M74.5,88.78 h4.8 M532.7,88.78 h-4.8 M74.5,67.35 h2.5 M532.7,67.35 h-2.5 M74.5,54.82 h2.5 M532.7,54.82 h-2.5 M74.5,45.93 h2.5 M532.7,45.93 h-2.5 M74.5,39.03 h2.5 M532.7,39.03 h-2.5 M74.5,33.39 h2.5 M532.7,33.39 h-2.5 M74.5,28.63 h2.5 M532.7,28.63 h-2.5 M74.5,24.50 h2.5 M532.7,24.50 h-2.5 M74.5,20.86 h2.5 M532.7,20.86 h-2.5" stroke="#262626" stroke-width="1.05" fill="none"/>
<rect x="74.5" y="17.6" width="458.2" height="355.9" fill="none" stroke="#262626" stroke-width="1.1"/>
<text transform="translate(168.17,396.30) scale(0.94,1)" text-anchor="end" class="t">10</text><text transform="translate(168.97,390.80) scale(0.96,1)" class="s">-4</text>
<text transform="translate(259.81,396.30) scale(0.94,1)" text-anchor="end" class="t">10</text><text transform="translate(260.61,390.80) scale(0.96,1)" class="s">-3</text>
<text transform="translate(351.45,396.30) scale(0.94,1)" text-anchor="end" class="t">10</text><text transform="translate(352.25,390.80) scale(0.96,1)" class="s">-2</text>
<text transform="translate(443.09,396.30) scale(0.94,1)" text-anchor="end" class="t">10</text><text transform="translate(443.89,390.80) scale(0.96,1)" class="s">-1</text>
<text transform="translate(536.58,396.30) scale(0.94,1)" text-anchor="end" class="t">10</text><text transform="translate(537.38,390.80) scale(0.96,1)" class="s">0</text>
<text transform="translate(51.50,380.40) scale(0.94,1)" text-anchor="end" class="t">10</text><text transform="translate(52.61,374.30) scale(0.96,1)" class="s">-22</text>
<text transform="translate(51.50,309.22) scale(0.94,1)" text-anchor="end" class="t">10</text><text transform="translate(52.61,303.12) scale(0.96,1)" class="s">-21</text>
<text transform="translate(51.50,238.04) scale(0.94,1)" text-anchor="end" class="t">10</text><text transform="translate(52.61,231.94) scale(0.96,1)" class="s">-20</text>
<text transform="translate(51.50,166.86) scale(0.94,1)" text-anchor="end" class="t">10</text><text transform="translate(52.61,160.76) scale(0.96,1)" class="s">-19</text>
<text transform="translate(51.50,95.68) scale(0.94,1)" text-anchor="end" class="t">10</text><text transform="translate(52.61,89.58) scale(0.96,1)" class="s">-18</text>
<text transform="translate(51.50,24.50) scale(0.94,1)" text-anchor="end" class="t">10</text><text transform="translate(52.61,18.40) scale(0.96,1)" class="s">-17</text>
<rect x="287.7" y="29.0" width="233.5" height="56.6" fill="#fff" stroke="#555" stroke-width="1.3"/>
<path d="M292,44.2 H334.5" stroke="#FC4A08" stroke-width="2.4"/>
<path d="M292,70.9 H334.5" stroke="#066CC4" stroke-width="2.4"/>
<text x="338.5" y="51.6" class="lg">Taiji detection limit</text>
<text x="338.5" y="78.0" class="lg">After optimization</text>
<text transform="translate(303.6,422.1) scale(1.05,1)" text-anchor="middle" class="xl">Frequency (Hz)</text>
<text transform="translate(24.7,195.7) rotate(-90)" text-anchor="middle" class="yl">Characteristic strain amplitude</text>
</svg>
</body></html>
